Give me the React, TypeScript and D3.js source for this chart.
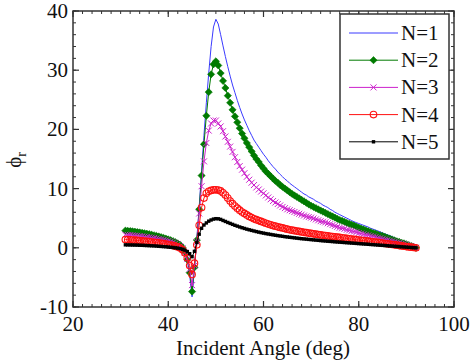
import React from "react";
import * as d3 from "d3";

// Incident angle grid: start and step of the sampled angles (deg)
const ANGLE_START = 31;
const ANGLE_STEP = 0.5;

const X_TICKS = [20, 40, 60, 80, 100];
const Y_TICKS = [-10, 0, 10, 20, 30, 40];
const LEGEND_LABELS = ["N=1", "N=2", "N=3", "N=4", "N=5"];

// phi_r values, one per angle (31 .. 92 deg)
const N1 = [
  3.3, 3.25, 3.2, 3.15, 3.1, 3.02, 2.95, 2.88, 2.8, 2.7,
  2.6, 2.5, 2.4, 2.3, 2.2, 2.08, 1.95, 1.83, 1.7, 1.55,
  1.4, 1.2, 1.0, 0.7, 0.2, -0.6, -2.0, -4.6, -8.3, -3.5,
  1.5, 7.0, 13.0, 19.0, 24.5, 29.5, 34.0, 37.3, 38.6, 37.8,
  36.0, 34.1, 32.3, 30.6, 29.0, 27.5, 26.2, 24.9, 23.7, 22.6,
  21.6, 20.7, 19.8, 19.0, 18.2, 17.6, 17.0, 16.4, 15.8, 15.3,
  14.7, 14.2, 13.7, 13.3, 12.8, 12.4, 12.0, 11.6, 11.3, 10.9,
  10.6, 10.3, 10.0, 9.7, 9.4, 9.1, 8.9, 8.6, 8.4, 8.2,
  7.9, 7.7, 7.5, 7.2, 7.0, 6.8, 6.5, 6.3, 6.0, 5.8,
  5.6, 5.4, 5.2, 5.0, 4.8, 4.6, 4.4, 4.25, 4.1, 3.95,
  3.8, 3.65, 3.5, 3.3, 3.15, 3.0, 2.85, 2.7, 2.5, 2.35,
  2.2, 2.05, 1.9, 1.7, 1.5, 1.3, 1.15, 0.95, 0.8, 0.6,
  0.4, 0.2, 0.0,
];
const N2 = [
  2.9, 2.86, 2.82, 2.77, 2.72, 2.66, 2.6, 2.53, 2.46, 2.38,
  2.3, 2.21, 2.12, 2.02, 1.92, 1.8, 1.68, 1.55, 1.42, 1.28,
  1.12, 0.95, 0.75, 0.5, 0.05, -0.7, -2.0, -4.2, -7.4, -3.3,
  1.3, 6.5, 12.2, 17.5, 22.3, 26.3, 29.3, 31.0, 31.5, 30.8,
  29.5, 28.2, 27.0, 25.7, 24.5, 23.3, 22.2, 21.2, 20.2, 19.3,
  18.5, 17.7, 17.0, 16.3, 15.6, 15.0, 14.5, 13.9, 13.4, 12.9,
  12.5, 12.1, 11.7, 11.3, 11.0, 10.6, 10.3, 10.0, 9.7, 9.4,
  9.1, 8.85, 8.6, 8.35, 8.1, 7.85, 7.6, 7.35, 7.1, 6.9,
  6.7, 6.5, 6.3, 6.1, 5.9, 5.7, 5.5, 5.3, 5.1, 4.9,
  4.7, 4.55, 4.4, 4.2, 4.05, 3.9, 3.75, 3.6, 3.4, 3.25,
  3.1, 2.95, 2.8, 2.65, 2.5, 2.4, 2.25, 2.1, 2.0, 1.85,
  1.7, 1.55, 1.4, 1.25, 1.1, 1.0, 0.85, 0.75, 0.6, 0.45,
  0.3, 0.15, 0.0,
];
const N3 = [
  2.2, 2.17, 2.14, 2.1, 2.06, 2.02, 1.98, 1.93, 1.88, 1.83,
  1.77, 1.71, 1.64, 1.57, 1.5, 1.42, 1.33, 1.24, 1.14, 1.03,
  0.9, 0.75, 0.55, 0.3, -0.1, -0.8, -1.9, -3.6, -6.3, -3.0,
  1.0, 5.8, 10.4, 14.6, 17.7, 19.8, 21.0, 21.5, 21.5, 21.0,
  20.5, 19.7, 18.8, 17.9, 17.1, 16.2, 15.3, 14.5, 13.8, 13.2,
  12.6, 12.0, 11.5, 11.0, 10.6, 10.2, 9.85, 9.5, 9.2, 8.85,
  8.5, 8.2, 7.9, 7.65, 7.4, 7.15, 6.9, 6.7, 6.5, 6.35,
  6.2, 6.05, 5.9, 5.75, 5.6, 5.45, 5.3, 5.2, 5.1, 4.95,
  4.8, 4.65, 4.5, 4.4, 4.3, 4.15, 4.0, 3.85, 3.7, 3.55,
  3.4, 3.3, 3.2, 3.05, 2.95, 2.85, 2.75, 2.65, 2.5, 2.4,
  2.3, 2.2, 2.1, 2.0, 1.9, 1.8, 1.7, 1.6, 1.5, 1.4,
  1.3, 1.2, 1.1, 1.0, 0.9, 0.8, 0.7, 0.6, 0.5, 0.35,
  0.25, 0.1, 0.0,
];
const N4 = [
  1.4, 1.37, 1.34, 1.31, 1.28, 1.24, 1.2, 1.16, 1.12, 1.08,
  1.03, 0.98, 0.93, 0.88, 0.82, 0.76, 0.7, 0.63, 0.55, 0.47,
  0.38, 0.27, 0.14, -0.05, -0.35, -0.85, -1.7, -3.0, -4.5, -2.6,
  0.5, 3.8, 6.8, 8.4, 9.2, 9.55, 9.7, 9.8, 9.8, 9.75,
  9.6, 9.3, 8.9, 8.4, 7.9, 7.45, 7.05, 6.7, 6.35, 6.05,
  5.8, 5.55, 5.3, 5.1, 4.9, 4.75, 4.6, 4.45, 4.3, 4.15,
  4.0, 3.88, 3.76, 3.65, 3.55, 3.45, 3.35, 3.25, 3.15, 3.05,
  2.97, 2.9, 2.83, 2.76, 2.69, 2.62, 2.55, 2.48, 2.42, 2.36,
  2.3, 2.24, 2.18, 2.12, 2.06, 2.0, 1.95, 1.9, 1.85, 1.8,
  1.75, 1.7, 1.64, 1.58, 1.52, 1.47, 1.42, 1.37, 1.32, 1.27,
  1.22, 1.17, 1.12, 1.06, 1.0, 0.95, 0.9, 0.84, 0.78, 0.73,
  0.68, 0.62, 0.56, 0.5, 0.44, 0.38, 0.32, 0.26, 0.2, 0.15,
  0.1, 0.05, 0.0,
];
const N5 = [
  0.5, 0.49, 0.48, 0.47, 0.46, 0.45, 0.43, 0.42, 0.4, 0.38,
  0.36, 0.34, 0.32, 0.29, 0.26, 0.23, 0.2, 0.17, 0.13, 0.09,
  0.05, 0.0, -0.06, -0.14, -0.25, -0.4, -0.65, -1.0, -1.5, -0.6,
  0.9, 2.3, 3.3, 3.85, 4.2, 4.5, 4.7, 4.85, 4.92, 4.9,
  4.8, 4.62, 4.45, 4.28, 4.12, 3.96, 3.8, 3.66, 3.52, 3.39,
  3.27, 3.15, 3.04, 2.94, 2.84, 2.74, 2.65, 2.56, 2.48, 2.4,
  2.33, 2.26, 2.19, 2.12, 2.06, 2.0, 1.94, 1.88, 1.83, 1.78,
  1.73, 1.68, 1.63, 1.58, 1.54, 1.5, 1.46, 1.42, 1.38, 1.34,
  1.3, 1.26, 1.22, 1.18, 1.15, 1.11, 1.08, 1.05, 1.01, 0.98,
  0.95, 0.92, 0.89, 0.86, 0.83, 0.8, 0.77, 0.74, 0.71, 0.68,
  0.65, 0.62, 0.59, 0.56, 0.53, 0.5, 0.47, 0.44, 0.41, 0.38,
  0.35, 0.32, 0.29, 0.26, 0.23, 0.2, 0.17, 0.14, 0.11, 0.08,
  0.05, 0.02, 0.0,
];

const SERIES_VALUES = [N1, N2, N3, N4, N5];
const COLORS = ["#3a3aff", "#007a00", "#cc22cc", "#ff1010", "#000000"];
const MARKERS = ["none", "diamond", "cross", "circle", "square"];

const FONT = "'Liberation Serif', 'Times New Roman', serif";

function Marker({ kind, color, cx, cy }: { kind: string; color: string; cx: number; cy: number }) {
  if (kind === "diamond") {
    const s = 3.6;
    return (
      <path
        d={`M${cx},${cy - s}L${cx + s},${cy}L${cx},${cy + s}L${cx - s},${cy}Z`}
        fill={color}
        stroke={color}
        strokeWidth={0.6}
      />
    );
  }
  if (kind === "cross") {
    const s = 3;
    return (
      <path
        d={`M${cx - s},${cy - s}L${cx + s},${cy + s}M${cx - s},${cy + s}L${cx + s},${cy - s}`}
        stroke={color}
        strokeWidth={1}
        fill="none"
      />
    );
  }
  if (kind === "circle") {
    return <circle cx={cx} cy={cy} r={3.3} fill="none" stroke={color} strokeWidth={1.1} />;
  }
  if (kind === "square") {
    const s = 1.7;
    return <rect x={cx - s} y={cy - s} width={2 * s} height={2 * s} fill={color} />;
  }
  return null;
}

export default function App() {
  const W = 474;
  const H = 364;
  const x = d3.scaleLinear().domain([20, 100]).range([73, 454]);
  const y = d3.scaleLinear().domain([-10, 40]).range([307, 11]);
  const [x0, x1] = x.range();
  const [y0, y1] = y.range();

  const line = d3
    .line<[number, number]>()
    .x((d) => x(d[0]))
    .y((d) => y(d[1]));

  const series = SERIES_VALUES.map((vals) =>
    vals.map((v, i) => [ANGLE_START + i * ANGLE_STEP, v] as [number, number])
  );

  const xMinor = d3.range(20, 100.001, 2);
  const yMinor = d3.range(-10, 40.001, 2);
  const axisColor = "#333";

  const legendX = 340;
  const legendY = 14;
  const legendW = 109;
  const legendH = 145;
  const legendRowY = (i: number) => 33 + i * 27.2;

  return (
    <svg
      width={W}
      height={H}
      style={{ position: "absolute", left: 0, top: 0, background: "#fff" }}
      fontFamily={FONT}
    >
      <rect x={0} y={0} width={W} height={H} fill="#fff" />

      {/* minor ticks */}
      {xMinor.map((t) => (
        <g key={"xm" + t}>
          <line x1={x(t)} x2={x(t)} y1={y0} y2={y0 - 3} stroke={axisColor} strokeWidth={1} />
          <line x1={x(t)} x2={x(t)} y1={y1} y2={y1 + 3} stroke={axisColor} strokeWidth={1} />
        </g>
      ))}
      {yMinor.map((t) => (
        <g key={"ym" + t}>
          <line x1={x0} x2={x0 + 3} y1={y(t)} y2={y(t)} stroke={axisColor} strokeWidth={1} />
          <line x1={x1} x2={x1 - 3} y1={y(t)} y2={y(t)} stroke={axisColor} strokeWidth={1} />
        </g>
      ))}
      {/* major ticks */}
      {X_TICKS.map((t) => (
        <g key={"xM" + t}>
          <line x1={x(t)} x2={x(t)} y1={y0} y2={y0 - 6} stroke={axisColor} strokeWidth={1.2} />
          <line x1={x(t)} x2={x(t)} y1={y1} y2={y1 + 6} stroke={axisColor} strokeWidth={1.2} />
          <text x={x(t)} y={331} fontSize={21} textAnchor="middle" fill="#111">
            {t}
          </text>
        </g>
      ))}
      {Y_TICKS.map((t) => (
        <g key={"yM" + t}>
          <line x1={x0} x2={x0 + 6} y1={y(t)} y2={y(t)} stroke={axisColor} strokeWidth={1.2} />
          <line x1={x1} x2={x1 - 6} y1={y(t)} y2={y(t)} stroke={axisColor} strokeWidth={1.2} />
          <text x={68} y={y(t) + 7} fontSize={21} textAnchor="end" fill="#111">
            {t}
          </text>
        </g>
      ))}

      {/* series */}
      {series.map((pts, si) => (
        <g key={"s" + si}>
          <path d={line(pts) || ""} fill="none" stroke={COLORS[si]} strokeWidth={1} />
          {MARKERS[si] !== "none" &&
            pts.map((p, i) => (
              <Marker key={i} kind={MARKERS[si]} color={COLORS[si]} cx={x(p[0])} cy={y(p[1])} />
            ))}
        </g>
      ))}

      {/* frame */}
      <rect
        x={x0}
        y={y1}
        width={x1 - x0}
        height={y0 - y1}
        fill="none"
        stroke={axisColor}
        strokeWidth={1.5}
      />

      {/* legend */}
      <rect
        x={legendX}
        y={legendY}
        width={legendW}
        height={legendH}
        fill="#fff"
        stroke={axisColor}
        strokeWidth={1.5}
      />
      {LEGEND_LABELS.map((lab, i) => (
        <g key={"l" + i}>
          <line
            x1={349}
            x2={398}
            y1={legendRowY(i)}
            y2={legendRowY(i)}
            stroke={COLORS[i]}
            strokeWidth={1}
          />
          <Marker kind={MARKERS[i]} color={COLORS[i]} cx={373.5} cy={legendRowY(i)} />
          <text x={401} y={legendRowY(i) + 7} fontSize={21} fill="#111">
            {lab}
          </text>
        </g>
      ))}

      {/* axis titles */}
      <text x={263} y={355} fontSize={21} textAnchor="middle" fill="#111">
        Incident Angle (deg)
      </text>
      <text transform="translate(21,160) rotate(-90)" fontSize={21} textAnchor="middle" fill="#111">
        ϕ<tspan fontSize={14} dy={5}>r</tspan>
      </text>
    </svg>
  );
}
